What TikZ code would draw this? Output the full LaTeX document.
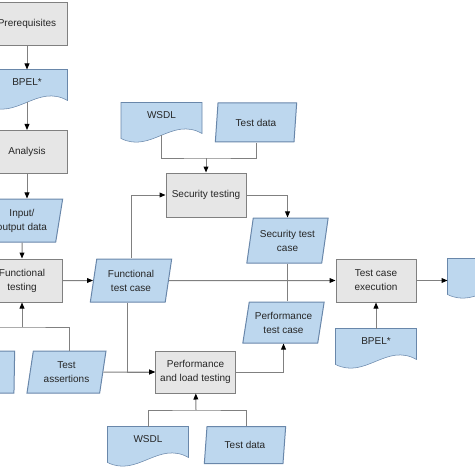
\documentclass[tikz,border=0pt]{standalone}
\usepackage{fontspec}
\newfontfamily\diafont{Liberation Sans}
\usetikzlibrary{shapes.geometric,arrows.meta,calc,backgrounds}

\definecolor{boxfill}{RGB}{230,230,230}
\definecolor{boxline}{RGB}{128,128,128}
\definecolor{datafill}{RGB}{189,215,238}
\definecolor{dataline}{RGB}{105,135,170}
\definecolor{wirecol}{RGB}{128,128,128}

\tikzset{every picture/.style={line width=0.75pt}}
\tikzset{
	txt/.style={font=\diafont\fontsize{7.5}{10.5}\selectfont, text=black!85, align=center},
	process/.style={txt, rectangle, draw=boxline, fill=boxfill, minimum width=60pt, minimum height=32.25pt, inner sep=1pt},
	data/.style={txt, trapezium, trapezium left angle=75, trapezium right angle=105, trapezium stretches body, draw=dataline, fill=datafill, minimum width=61pt, minimum height=32.25pt, inner sep=1pt},
	doc/.style={txt, rectangle, minimum width=60pt, minimum height=18.75pt, inner sep=1pt},
	docshape/.style={draw=dataline, fill=datafill},
	wire/.style={draw=wirecol},
	flow/.style={wire, -{Triangle[length=4.5pt,width=3.6pt,color=black]}}}

\begin{document}
\begin{tikzpicture}[x=0.75pt,y=0.75pt,yscale=-1,xscale=1]
	\useasboundingbox (0,0) rectangle (474,474);

	%Process boxes
	\node[process] (prereq) at (27,24) {Prerequisites};
	\node[process] (analysis) at (27,152) {Analysis};
	\node[process] (functesting) at (22,280.5) {Functional\\testing};
	\node[process] (sectesting) at (206,195) [minimum height=33pt] {Security testing};
	\node[process] (exec) at (376,280.5) {Test case\\execution};
	\node[process] (perftest) at (195.5,372) [minimum height=31.5pt] {Performance\\and load testing};

	%Data shapes
	\node[data] (io) at (22,220.5) {Input/\\output data};
	\node[data] (ftc) at (131,280.5) {Functional\\test case};
	\node[data] (tdA) at (256,122.5) [minimum height=29.25pt] {Test data};
	\node[data] (stc) at (287.5,240.5) [minimum height=33.75pt] {Security test\\case};
	\node[data] (ptc) at (283.5,322.5) [minimum height=30.75pt] {Performance\\test case};
	\node[data] (ta) at (66.5,372) [minimum height=31.5pt, minimum width=59.25pt] {Test\\assertions};
	\node[data] (leftpar) at (-26,372) [minimum height=31.5pt] {};
	\node[data] (tdB) at (245,445) [minimum height=27.75pt] {Test data};

	%Documents
	\node[doc] (bpelA) at (27,82.5) {BPEL*};
	\node[doc] (wsdlA) at (161.5,115.5) {WSDL};
	\node[doc] (bpelB) at (376,341.5) {BPEL*};
	\node[doc] (wsdlB) at (148,439.5) {WSDL};
	\node[doc] (outdoc) at (488,271.5) {};

	\begin{scope}[on background layer]
	\foreach \d in {bpelA,wsdlA,bpelB,wsdlB,outdoc}
		\draw[docshape] (\d.north west) -- (\d.north east) -- ($(\d.south east)+(0,5)$) .. controls ($(\d.south east)+(-30,-12)$) and ($(\d.south west)+(30,25)$) .. ($(\d.south west)+(0,10)$) -- cycle;
	\end{scope}

	%Junctions
	\coordinate (secin) at (206,158);
	\coordinate (perfin) at (196,410);
	\coordinate (ftin) at (22,327);

	%Connectors
	\draw[flow] (prereq) -- (bpelA);
	\draw[flow] ($(bpelA.south)+(0,7)$) -- (analysis);
	\draw[flow] (analysis) -- (analysis.south |- io.north);
	\draw[flow] (io) -- (functesting);
	\draw[flow] (functesting) -- (ftc);
	\draw[flow] (ftc) -- (exec);
	\draw[flow] (ftc.north) |- (sectesting.west);
	\draw[wire] ($(wsdlA.south)+(0,7)$) |- (secin) -| (tdA.south);
	\draw[flow] (secin) -- (sectesting);
	\draw[flow] (sectesting.east) -| (stc.north);
	\draw[wire] (stc.south) -- (stc.south |- ptc.north);
	\draw[flow] (exec.east) -- (exec.east -| outdoc.west);
	\draw[flow] (bpelB) -- (exec);
	\draw[flow] (ftc.bottom side) |- (perftest.west);
	\draw[flow] (ta.east) -- (perftest.west);
	\draw[flow] (perftest.east) -| (ptc.south);
	\draw[wire] (wsdlB.north) |- (perfin) -| (tdB.top side);
	\draw[flow] (perfin) -- (perftest);
	\draw[wire] (leftpar.top side) |- (ftin) -| (ta.top side);
	\draw[flow] (ftin) -- (functesting);

\end{tikzpicture}
\end{document}
